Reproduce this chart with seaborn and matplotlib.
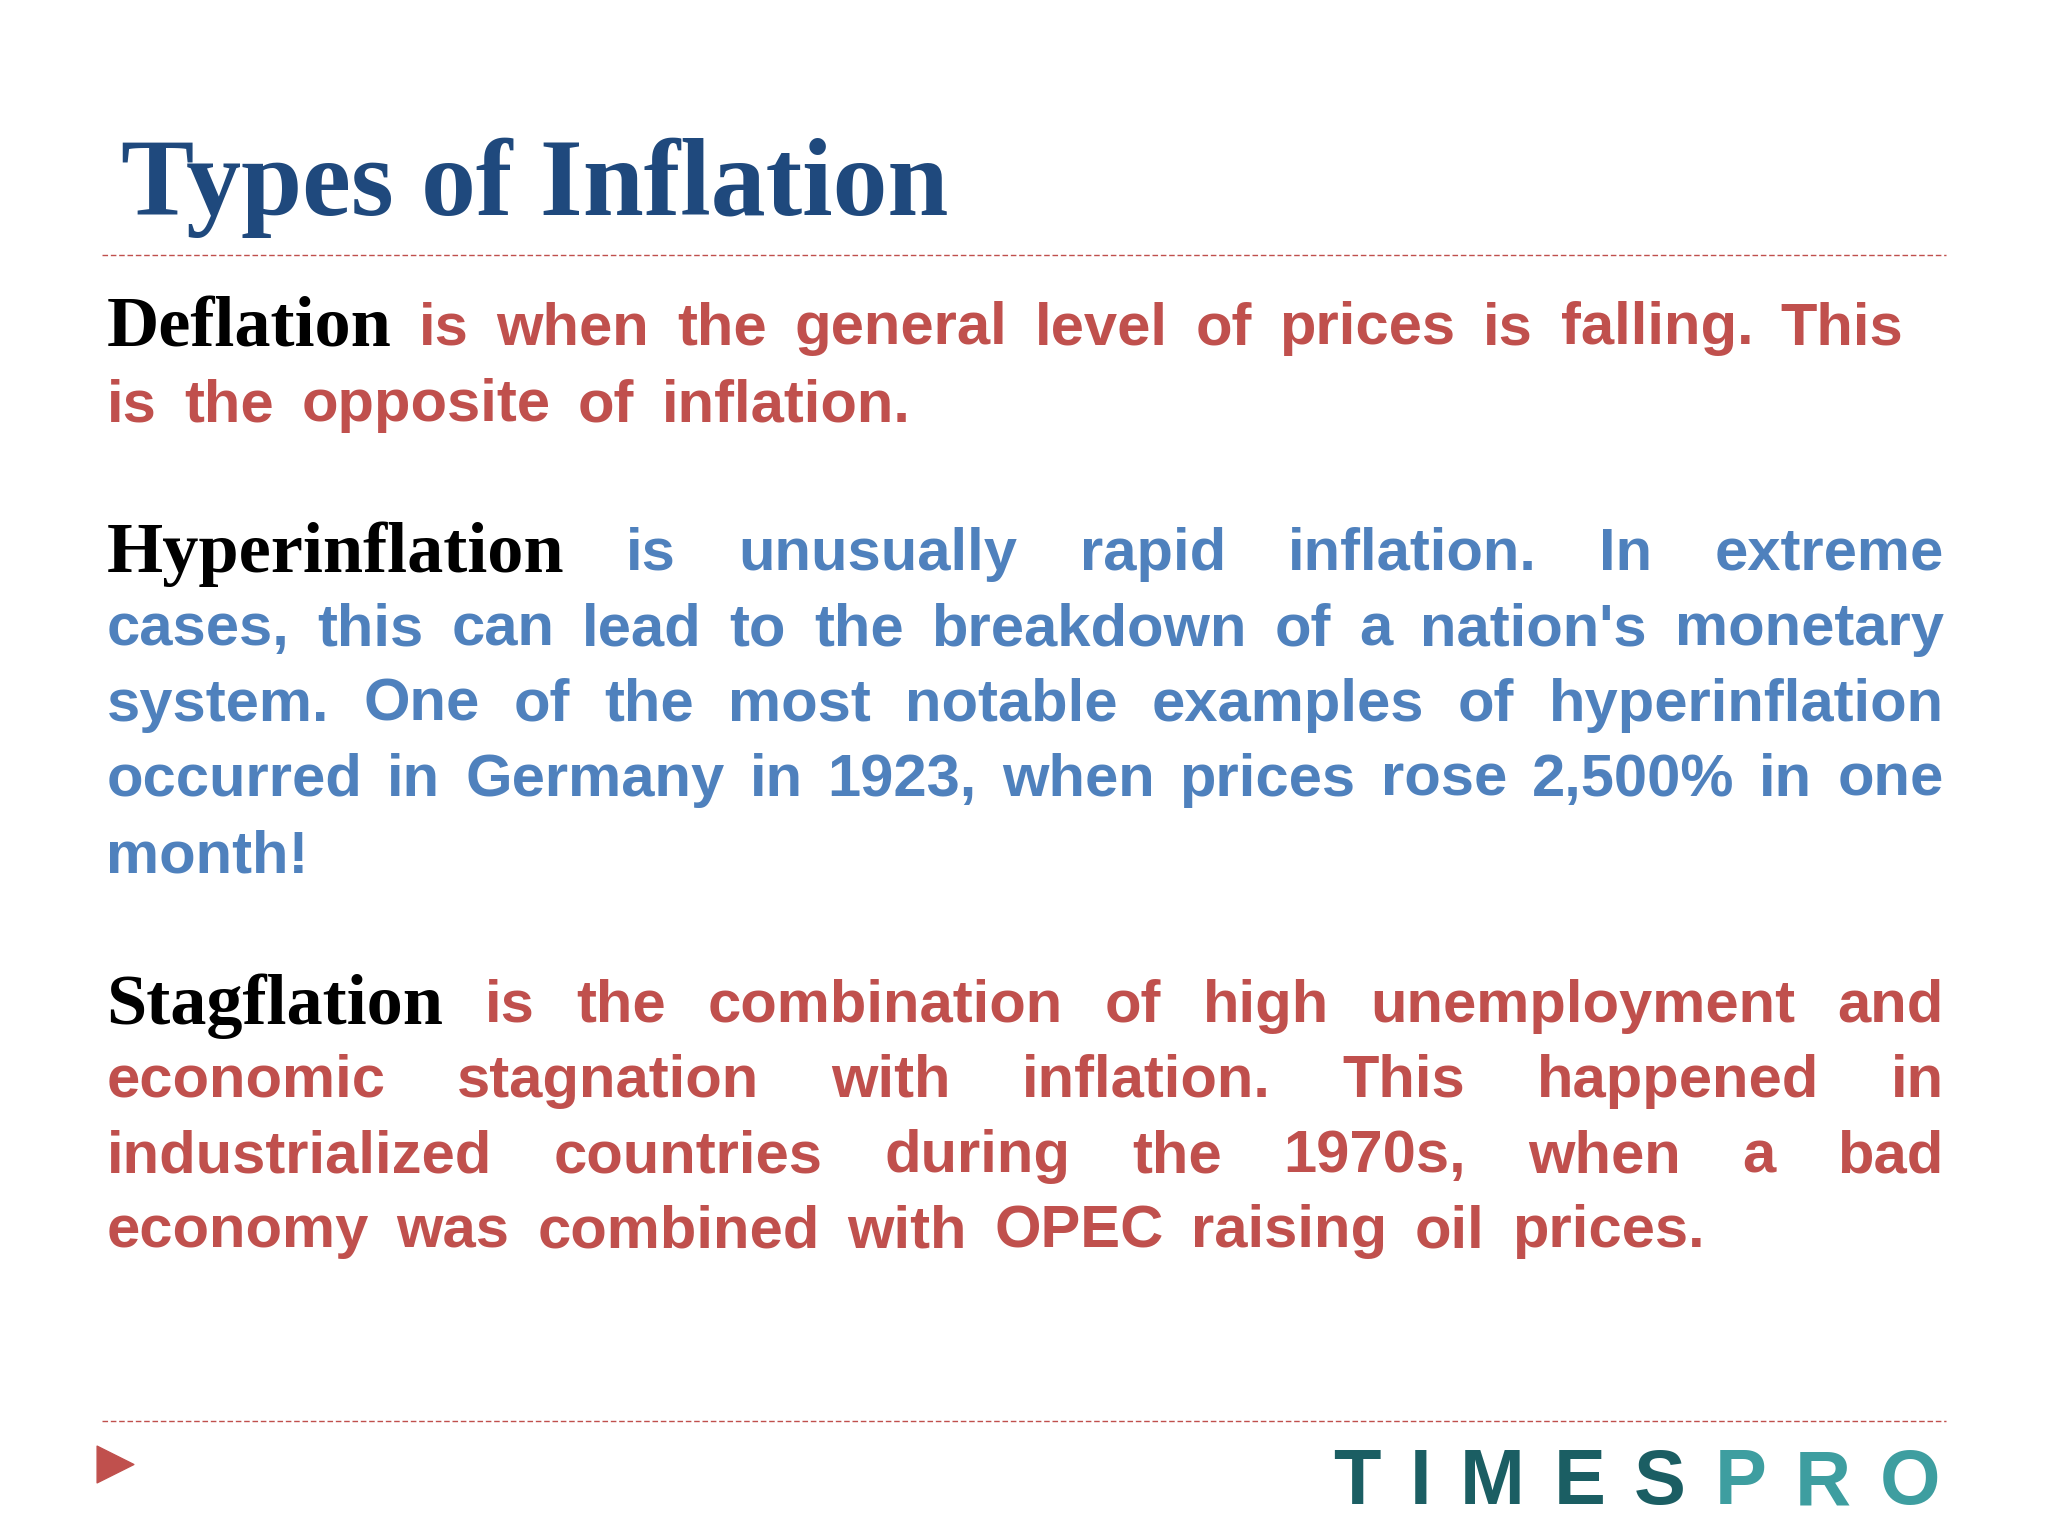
import matplotlib
matplotlib.use("Agg")
import matplotlib.pyplot as plt
import seaborn as sns

RED = "#C0504D"
BLUE = "#4F81BD"
BLACK = "#000000"
TITLE_BLUE = "#1F497D"

title = "Types of Inflation"

# each paragraph: (keyword, colour of body, lines of body text, line centres, justify)
deflation_lines = ["is when the general level of prices is falling. This",
                   "is the opposite of inflation."]
hyper_lines = ["is unusually rapid inflation. In extreme",
               "cases, this can lead to the breakdown of a nation's monetary",
               "system. One of the most notable examples of hyperinflation",
               "occurred in Germany in 1923, when prices rose 2,500% in one",
               "month!"]
stag_lines = ["is the combination of high unemployment and",
              "economic stagnation with inflation. This happened in",
              "industrialized countries during the 1970s, when a bad",
              "economy was combined with OPEC raising oil prices."]
paragraphs = [
    ("Deflation", RED, deflation_lines, [0.214, 0.264], False),
    ("Hyperinflation", BLUE, hyper_lines, [0.361, 0.410, 0.459, 0.508, 0.558], True),
    ("Stagflation", RED, stag_lines, [0.655, 0.704, 0.753, 0.802], True),
]

sns.set_theme(style="white")
fig = plt.figure(figsize=(20.48, 15.36), dpi=100)
ax = fig.add_axes([0, 0, 1, 1])
ax.set_xlim(0, 1)
ax.set_ylim(1, 0)
ax.axis("off")

ax.text(0.059, 0.122, title, fontsize=79, fontweight="bold", color=TITLE_BLUE,
        family="Liberation Serif", va="center", ha="left")
for y in (0.166, 0.925):
    ax.plot([0.05, 0.95], [y, y], color=RED, lw=1.0, ls=(0, (4, 2)))

LEFT, RIGHT = 0.052, 0.949
FS = 43
renderer = fig.canvas.get_renderer()


def width_of(t):
    bb = t.get_window_extent(renderer=renderer)
    return bb.width / fig.bbox.width


for key, col, lines, ys, justify in paragraphs:
    for i, (line, y) in enumerate(zip(lines, ys)):
        words = []
        if i == 0:
            words.append(ax.text(0, y, key, fontsize=52, fontweight="bold", color=BLACK,
                                 family="Liberation Serif", va="center", ha="left"))
        for w in line.split():
            words.append(ax.text(0, y, w, fontsize=FS, fontweight="bold", color=col,
                                 family="Liberation Sans", va="center", ha="left"))
        widths = [width_of(t) for t in words]
        space = 0.0135
        last = i == len(lines) - 1
        if justify and not last and len(words) > 1:
            space = (RIGHT - LEFT - sum(widths)) / (len(words) - 1)
        x = LEFT
        for t, w in zip(words, widths):
            t.set_x(x)
            x += w + space

# footer
ax.scatter([0.056], [0.953], marker=">", s=700, color=RED)
logo = "TIMESPRO"
x = 0.651
for k, ch in enumerate(logo):
    c = "#1B5E63" if k < 5 else "#3E9EA0"
    t = ax.text(x, 0.966, ch, fontsize=56, fontweight="bold", color=c,
                family="Liberation Sans", va="center", ha="left")
    x += width_of(t) + 0.014

fig.savefig("out.png", dpi=100, facecolor="white")
